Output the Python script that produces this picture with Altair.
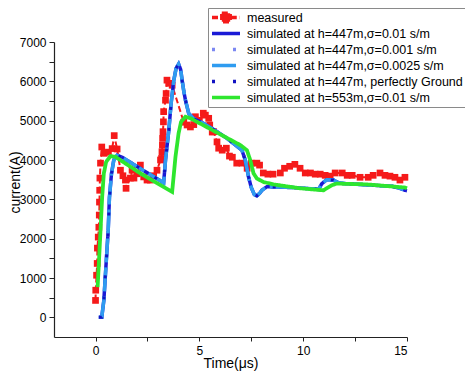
import altair as alt
import pandas as pd

# ---- data ----
meas_t = [0.00, 0.01, 0.05, 0.08, 0.09, 0.13, 0.16, 0.18, 0.19, 0.20, 0.21, 0.24, 0.30, 0.42,
          0.62, 0.80, 0.90, 1.04, 1.20, 1.32, 1.44, 1.47, 1.68, 1.76, 1.85, 2.00, 2.16, 2.32,
          2.48, 2.64, 2.80, 2.96, 3.13, 3.18, 3.20, 3.22, 3.23, 3.25, 3.27, 3.28, 3.37, 3.40,
          3.44, 3.53, 3.69, 4.25, 4.41, 4.57, 4.73, 4.81, 5.00, 5.19, 5.29, 5.45, 5.50, 5.62,
          5.69, 5.85, 5.93, 6.10, 6.30, 6.45, 6.59, 6.80, 7.05, 7.30, 7.50, 7.77, 7.90, 8.08,
          8.30, 8.55, 8.90, 9.10, 9.35, 9.60, 9.85, 10.10, 10.35, 10.58, 10.82, 11.06, 11.30,
          11.54, 11.88, 12.12, 12.36, 12.74, 13.13, 13.37, 13.70, 13.94, 14.18, 14.42, 14.66, 14.90]
meas_i = [430, 690, 1070, 1370, 1760, 2040, 2290, 2600, 2930, 3230, 3540, 3920, 4330, 4170,
          4200, 4290, 4620, 4280, 3740, 3600, 3490, 3280, 3540, 3740, 3540, 3650, 3870, 3570,
          3490, 3490, 3600, 3740, 4000, 4040, 4210, 4380, 4550, 4720, 4970, 5230, 5520, 5690,
          6030, 5950, 5900, 4960, 4890, 4840, 4900, 5100, 5010, 5190, 5140, 5060, 4890, 4710,
          4720, 4460, 4300, 4250, 4300, 4100, 4070, 3920, 3920, 3790, 3920, 3920, 3870, 3670,
          3640, 3640, 3670, 3790, 3840, 3890, 3790, 3670, 3670, 3640, 3640, 3610, 3590,
          3670, 3670, 3610, 3610, 3560, 3560, 3610, 3670, 3610, 3590, 3560, 3490, 3560]

sim447_t = [0.16, 0.30, 0.40, 0.51, 0.61, 0.67, 0.77, 0.88, 1.04, 1.28, 2.32, 3.28, 3.37, 3.53,
            3.64, 3.77, 3.88, 4.00, 4.10, 4.17, 4.25, 4.33, 4.49, 4.73, 5.21, 5.85, 6.33, 7.05,
            7.21, 7.37, 7.50, 7.65, 7.77, 7.90, 8.01, 8.25, 9.50, 10.60, 10.74, 10.90, 11.14,
            11.46, 11.70, 12.00, 14.30, 14.60, 14.90, 15.00]
sim447_i = [0, 0, 430, 1370, 2210, 3050, 3660, 4000, 4120, 4070, 3730, 3420, 4000, 4760,
            5440, 6030, 6330, 6440, 6300, 6030, 5750, 5520, 5180, 5050, 4930, 4720, 4550, 4250,
            4000, 3570, 3300, 3120, 3090, 3150, 3230, 3320, 3300, 3260, 3250, 3400, 3500,
            3490, 3420, 3400, 3330, 3290, 3230, 3220]

sim553_t = [0.10, 0.16, 0.24, 0.32, 0.40, 0.51, 0.72, 0.96, 2.16, 3.69, 3.85, 4.00, 4.12, 4.33,
            4.57, 6.97, 7.29, 7.45, 7.61, 7.77, 8.09, 8.57, 9.86, 10.98, 11.38, 11.62, 13.06,
            14.90, 15.00]
sim553_i = [770, 1370, 2210, 3060, 3660, 3950, 4100, 4080, 3660, 3190, 4080, 4680, 4970, 5100,
            5060, 4380, 4250, 4000, 3660, 3530, 3440, 3380, 3280, 3230, 3360, 3400, 3380,
            3300, 3280]

series_names = [
    "measured",
    "simulated at h=447m,σ=0.01 s/m",
    "simulated at h=447m,σ=0.001 s/m",
    "simulated at h=447m,σ=0.0025 s/m",
    "simulated at h=447m, perfectly Ground",
    "simulated at h=553m,σ=0.01 s/m",
]
series_colors = ["#F51A1A", "#1A1AD6", "#7C88F2", "#2F9CF0", "#1212C2", "#2EE62E"]
series_dash = [[6, 3], [1, 0], [3, 18], [24, 5], [3, 18], [1, 0]]

# ---- tables ----
def frame(ts, vals, name):
    return pd.DataFrame({"t": ts, "I": vals, "series": name, "k": list(range(len(ts)))})

df_meas = frame(meas_t, meas_i, series_names[0])
sim_frames = [frame(sim447_t, sim447_i, series_names[j]) for j in range(1, 5)]
df_553 = frame(sim553_t, sim553_i, series_names[5])

x_enc = alt.X(
    "t:Q",
    scale=alt.Scale(domain=[-2, 15], nice=False, zero=False),
    axis=alt.Axis(
        title="Time(μs)",
        values=[0, 2.5, 5, 7.5, 10, 12.5, 15],
        labelExpr="datum.value % 5 === 0 ? datum.label : ''",
        tickSize=4,
        labelPadding=4,
        titleY=19,
        titleBaseline="top",
        grid=False,
    ),
)
y_enc = alt.Y(
    "I:Q",
    scale=alt.Scale(domain=[-500, 7000], nice=False, zero=False),
    axis=alt.Axis(
        title="current(A)",
        values=list(range(0, 7001, 500)),
        labelExpr="datum.value % 1000 === 0 ? datum.label : ''",
        format="d",
        tickSize=5,
        labelPadding=3,
        titleX=-32,
        titleY=140,
        titleFontSize=14,
        grid=False,
    ),
)
color_enc = alt.Color(
    "series:N",
    scale=alt.Scale(domain=series_names, range=series_colors),
    legend=alt.Legend(
        title=None,
        orient="none",
        legendX=154,
        legendY=-34,
        symbolType=alt.ExprRef(
            "datum.value === 'measured' ? 'M-1,0H-0.34M0.34,0H1M-0.3,-0.3H0.3V0.3H-0.3Z' : 'stroke'"
        ),
        symbolFillColor=alt.ExprRef(
            "datum.value === 'measured' ? '#F51A1A' : 'transparent'"
        ),
        symbolSize=784,
        symbolStrokeWidth=3.5,
        labelFontSize=12.5,
        labelFont="Liberation Sans",
        labelColor="#000000",
        labelLimit=400,
        labelOffset=5,
        clipHeight=15,
        rowPadding=1,
        padding=2,
        strokeColor="#8a8a8a",
        fillColor="white",
    ),
)
dash_enc = alt.StrokeDash(
    "series:N",
    scale=alt.Scale(domain=series_names, range=series_dash),
    legend=None,
)


def line_layer(df, width):
    return alt.Chart(df).mark_line(strokeWidth=width).encode(
        x=x_enc, y=y_enc, color=color_enc, strokeDash=dash_enc, order=alt.Order("k:Q")
    )


meas_line = line_layer(df_meas, 2)
meas_pts = alt.Chart(df_meas).mark_square(size=45, color="#F51A1A", opacity=1).encode(
    x=x_enc, y=y_enc
)
layers = [meas_line, meas_pts]
widths = [3.5, 3, 3.5, 3]
for f, w in zip(sim_frames, widths):
    layers.append(line_layer(f, w))
layers.append(line_layer(df_553, 3.8))

chart = (
    alt.layer(*layers)
    .properties(
        width=353,
        height=295,
        autosize=alt.AutoSizeParams(type="none"),
        padding={"left": 46, "top": 34, "right": 58, "bottom": 34},
    )
    .configure_view(stroke=None)
    .configure_axis(
        labelFont="Liberation Sans",
        labelFontSize=12,
        labelColor="#000000",
        titleFont="Liberation Sans",
        titleFontSize=14,
        titleFontWeight="normal",
        titleColor="#000000",
        domainColor="#222222",
        tickColor="#222222",
        domainWidth=1.2,
    )
)

chart.save("out.html", embed_options={"renderer": "svg", "actions": False})
